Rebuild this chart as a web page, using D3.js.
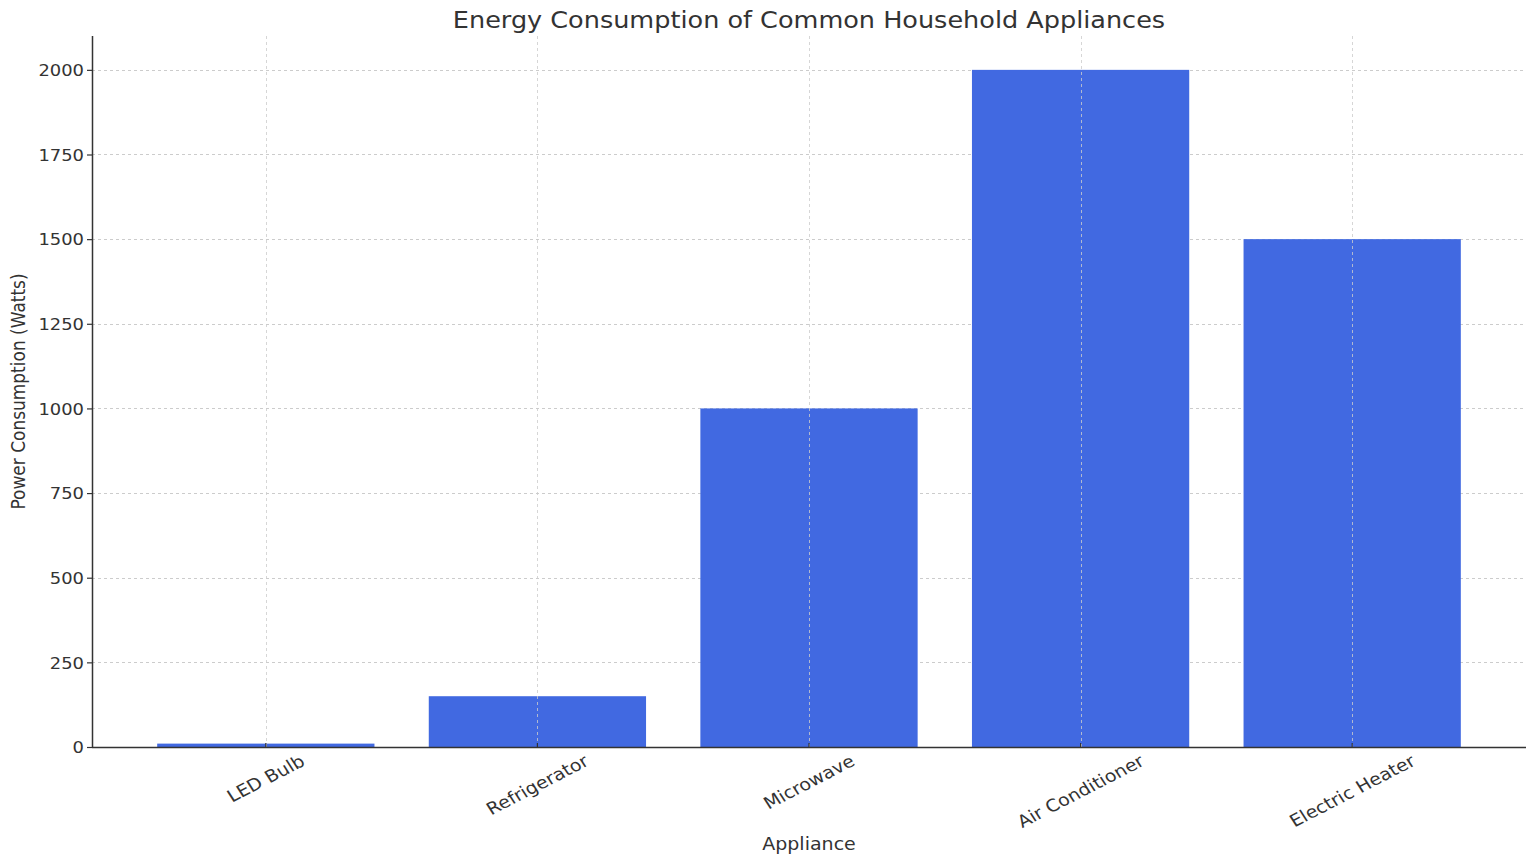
<!DOCTYPE html>
<html>
<head>
<meta charset="utf-8">
<script src="https://cdn.jsdelivr.net/npm/d3@7"></script>
<style>
  html, body { margin: 0; padding: 0; background: #fff; }
  svg { display: block; font-family: "DejaVu Sans", sans-serif; }
</style>
</head>
<body>
<svg id="chart" width="1536" height="864"></svg>
<script>
const categories = ["LED Bulb", "Refrigerator", "Microwave", "Air Conditioner", "Electric Heater"];
const watts = [10, 150, 1000, 2000, 1500];
const yTicks = [0, 250, 500, 750, 1000, 1250, 1500, 1750, 2000];
const titleText = "Energy Consumption of Common Household Appliances";
const xLabelText = "Appliance";
const yLabelText = "Power Consumption (Watts)";

(function () {
const svg = d3.select("#chart");
const pL = 92, pR = 1526, pT = 36, pB = 747;
const textColor = "#333333";
const SX = 1.12; // horizontal stretch of the reference picture

const x = d3.scaleBand().domain(categories).range([pL, pR])
  .paddingInner(0.2).paddingOuter(0.24);
const y = d3.scaleLinear().domain([0, 2100]).range([pB, pT]);

// horizontal grid
const grid = svg.append("g").attr("stroke", "#cccccc").attr("stroke-width", 1)
  .attr("stroke-dasharray", "3,3");
grid.selectAll("line").data(yTicks).join("line")
  .attr("x1", pL).attr("x2", pR)
  .attr("y1", d => Math.round(y(d)) + 0.5).attr("y2", d => Math.round(y(d)) + 0.5);

// bars
svg.append("g").selectAll("rect").data(categories).join("rect")
  .attr("x", d => x(d))
  .attr("width", x.bandwidth())
  .attr("y", (d, i) => y(watts[i]))
  .attr("height", (d, i) => y(0) - y(watts[i]))
  .attr("fill", "#4169E1");

// vertical grid
const vgrid = svg.append("g").attr("stroke", "#cccccc").attr("stroke-width", 1)
  .attr("stroke-dasharray", "3,3").attr("opacity", 0.8);
vgrid.selectAll("line").data(categories).join("line")
  .attr("x1", d => Math.round(x(d) + x.bandwidth() / 2) + 0.5)
  .attr("x2", d => Math.round(x(d) + x.bandwidth() / 2) + 0.5)
  .attr("y1", pT).attr("y2", pB);

// y axis
const yAxis = d3.axisLeft(y).tickValues(yTicks).tickSize(5).tickPadding(5).tickFormat(d3.format("d"));
const yg = svg.append("g").attr("transform", `translate(${pL},0)`).call(yAxis);
yg.select(".domain").attr("stroke", "#333").attr("stroke-width", 1.5).attr("d", `M0.5,${pT}V${pB}`);
yg.selectAll(".tick line").attr("stroke", "#333").attr("stroke-width", 1.2);
yg.selectAll(".tick text").attr("fill", textColor).attr("font-size", 16)
  .attr("font-family", "DejaVu Sans")
  .attr("x", 0).attr("dy", "0.36em")
  .attr("transform", `translate(-8,0) scale(${SX},1)`);

// x axis
const xFont = 17;
const xAxis = d3.axisBottom(x).tickSize(-4).tickPadding(0);
const xg = svg.append("g").attr("transform", `translate(0,${pB})`).call(xAxis);
xg.select(".domain").attr("stroke", "#333").attr("stroke-width", 1.5).attr("d", `M${pL},0.5H${pR}`);
xg.selectAll(".tick line").attr("stroke", "#333").attr("stroke-width", 1.2);
xg.selectAll(".tick text").each(function () {
  const t = d3.select(this);
  t.attr("fill", textColor).attr("font-size", xFont).attr("font-family", "DejaVu Sans")
   .attr("text-anchor", "middle").attr("dy", "0.35em").attr("y", 0);
  const w = this.getComputedTextLength();
  const cy = 5 + (w * 0.5 + xFont * 0.866) / 2;
  t.attr("transform", `translate(0,${cy}) scale(${SX},1) rotate(-30)`);
});

// title
svg.append("text").attr("transform", `translate(${(pL + pR) / 2},27.5) scale(${SX},1)`)
  .attr("text-anchor", "middle").attr("font-size", 22.8).attr("fill", textColor)
  .text(titleText);

// axis labels
svg.append("text").attr("transform", `translate(${(pL + pR) / 2},850) scale(${SX},1)`)
  .attr("text-anchor", "middle").attr("font-size", 17).attr("fill", textColor)
  .text(xLabelText);
svg.append("text").attr("transform", `translate(24.5,${(pT + pB) / 2}) scale(${SX},1) rotate(-90)`)
  .attr("text-anchor", "middle").attr("font-size", 17).attr("fill", textColor)
  .text(yLabelText);
})();
</script>
</body>
</html>
